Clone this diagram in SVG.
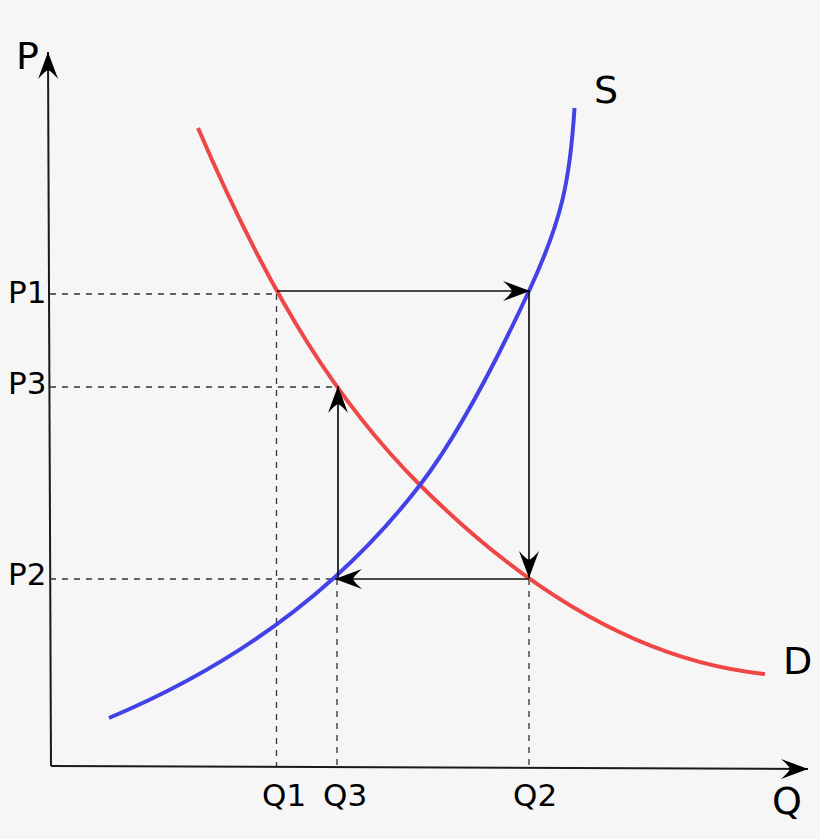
<svg xmlns="http://www.w3.org/2000/svg" width="820" height="839" viewBox="0 0 820 839">
<style>
.axis{fill:none;stroke:#1a1a1a;stroke-width:2}
.dash{fill:none;stroke:#333;stroke-width:1.3;stroke-dasharray:6,6}
.arr{fill:none;stroke:#111;stroke-width:1.7}
.curve{fill:none;stroke-width:4;stroke-linecap:butt}
.lbl{font-family:"DejaVu Sans",sans-serif;fill:#000}
.big{font-size:38px}
.small{font-size:31px}
</style>
<defs>
<marker id="ah" markerUnits="userSpaceOnUse" markerWidth="30" markerHeight="24" viewBox="-28 -12 30 24" refX="0" refY="0" orient="auto">
<path d="M0,0 L-27,-10 Q-19,-3 -18,0 Q-19,3 -27,10 Z" fill="#000"/>
</marker>
</defs>
<rect width="820" height="839" fill="#f6f6f6"/>
<g id="axes">
<line class="axis" x1="51" y1="766" x2="48" y2="52" marker-end="url(#ah)"/>
<line class="axis" x1="51" y1="766" x2="808" y2="769" marker-end="url(#ah)"/>
</g>
<g id="guides">
<line class="dash" x1="50" y1="294" x2="277" y2="294"/>
<line class="dash" x1="50" y1="387" x2="338" y2="387"/>
<line class="dash" x1="50" y1="579" x2="337" y2="579"/>
<line class="dash" x1="276.5" y1="294" x2="276.5" y2="766"/>
<line class="dash" x1="337" y1="579" x2="337" y2="766"/>
<line class="dash" x1="529" y1="579" x2="529" y2="767"/>
</g>
<g id="demand">
<path class="curve" stroke="#ef4646" d="M198,128 C273.4,303.3 339.9,404.9 420,485 Q591.7,656.7 765,674"/>
</g>
<g id="supply">
<path class="curve" stroke="#4242e6" d="M109,718 Q303.6,636.3 420,485 Q467.5,423.2 529,291 C562,220 570,180 574.5,108"/>
</g>
<g id="connectors">
<line class="arr" x1="277" y1="291" x2="530" y2="291" marker-end="url(#ah)"/>
<line class="arr" x1="529" y1="291" x2="529" y2="578" marker-end="url(#ah)"/>
<line class="arr" x1="529" y1="579" x2="335" y2="579" marker-end="url(#ah)"/>
<line class="arr" x1="338" y1="579" x2="338" y2="386" marker-end="url(#ah)"/>
</g>
<g id="labels">
<text class="lbl big" x="16" y="69">P</text>
<text class="lbl big" x="594" y="103">S</text>
<text class="lbl big" x="783" y="674">D</text>
<text class="lbl big" x="772" y="814">Q</text>
<text class="lbl small" x="8" y="303">P1</text>
<text class="lbl small" x="8" y="394">P3</text>
<text class="lbl small" x="8" y="585">P2</text>
<text class="lbl small" x="262" y="806">Q1</text>
<text class="lbl small" x="323" y="806">Q3</text>
<text class="lbl small" x="513" y="806">Q2</text>
</g>
</svg>
